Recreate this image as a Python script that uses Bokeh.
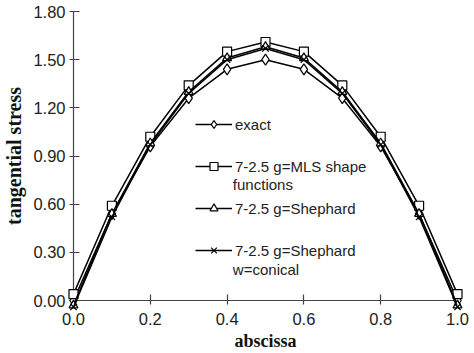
from bokeh.plotting import figure
from bokeh.models import (Range1d, FixedTicker, NumeralTickFormatter, Legend,
                          LegendItem, Label)
from bokeh.embed import file_html
from bokeh.resources import INLINE

# data
abscissa = [0.0, 0.1, 0.2, 0.3, 0.4, 0.5, 0.6, 0.7, 0.8, 0.9, 1.0]
exact = [0.00, 0.54, 0.96, 1.26, 1.44, 1.50, 1.44, 1.26, 0.96, 0.54, 0.00]
mls = [0.04, 0.59, 1.02, 1.34, 1.55, 1.61, 1.55, 1.34, 1.02, 0.59, 0.04]
shephard = [-0.03, 0.54, 0.98, 1.30, 1.51, 1.58, 1.51, 1.30, 0.98, 0.54, -0.03]
conical = [-0.04, 0.52, 0.97, 1.29, 1.50, 1.57, 1.50, 1.29, 0.97, 0.52, -0.04]
x_ticks = [0.0, 0.2, 0.4, 0.6, 0.8, 1.0]
y_ticks = [0.0, 0.3, 0.6, 0.9, 1.2, 1.5, 1.8]
labels = ["exact", "7-2.5 g=MLS shape", "7-2.5 g=Shephard", "7-2.5 g=Shephard"]
continuations = ["functions", "w=conical"]

p = figure(width=474, height=353, frame_width=384, frame_height=289,
           min_border_left=70, min_border_right=20, min_border_top=11,
           min_border_bottom=53, output_backend="svg", toolbar_location=None,
           x_range=Range1d(0, 1), y_range=Range1d(0, 1.8))
p.outline_line_color = None
p.grid.visible = False

for ax in (p.xaxis[0], p.yaxis[0]):
    ax.axis_line_color = "#444444"
    ax.axis_line_width = 1.2
    ax.major_tick_line_color = "#444444"
    ax.major_tick_line_width = 1.2
    ax.major_tick_in = 6
    ax.major_tick_out = 4
    ax.minor_tick_line_color = None
    ax.major_label_text_font = "Liberation Sans"
    ax.major_label_text_font_size = "16.5px"
    ax.major_label_text_color = "#222222"
    ax.axis_label_text_font = "Liberation Serif"
    ax.axis_label_text_font_style = "bold"
    ax.axis_label_text_color = "#111111"

p.xaxis.ticker = FixedTicker(ticks=x_ticks)
p.yaxis.ticker = FixedTicker(ticks=y_ticks)
p.xaxis.formatter = NumeralTickFormatter(format="0.0")
p.yaxis.formatter = NumeralTickFormatter(format="0.00")
p.xaxis.axis_label = "abscissa"
p.yaxis.axis_label = "tangential stress"
p.xaxis.axis_label_text_font_size = "18px"
p.yaxis.axis_label_text_font_size = "20px"
p.xaxis.major_label_standoff = 8
p.yaxis.major_label_standoff = 4
p.xaxis.axis_label_standoff = 3
p.yaxis.axis_label_standoff = 5

series = [(exact, "diamond", 11), (mls, "square", 9),
          (shephard, "triangle", 9), (conical, "x", 9)]
items = []
for (vals, marker, size), lab in zip(series, labels):
    l = p.line(abscissa, vals, line_color="black", line_width=1.5, level="overlay")
    m = p.scatter(abscissa, vals, marker=marker, size=size, fill_color="white",
                  line_color="black", line_width=1.2, level="overlay")
    items.append(LegendItem(label=lab, renderers=[l, m]))

legend = Legend(items=items, location=(122, 40), padding=0, margin=0,
                spacing=22, glyph_width=37, glyph_height=20, label_height=20,
                label_standoff=3, border_line_alpha=0, background_fill_alpha=0,
                label_text_font="Liberation Sans", label_text_font_size="15px",
                label_text_color="#222222")
p.add_layout(legend, "center")

for txt, yv in zip(continuations, [0.72, 0.195]):
    p.add_layout(Label(x=0.415, y=yv, text=txt, text_font="Liberation Sans",
                       text_font_size="15px", text_color="#222222",
                       text_baseline="middle"))

open("out.html", "w").write(file_html(p, INLINE))
